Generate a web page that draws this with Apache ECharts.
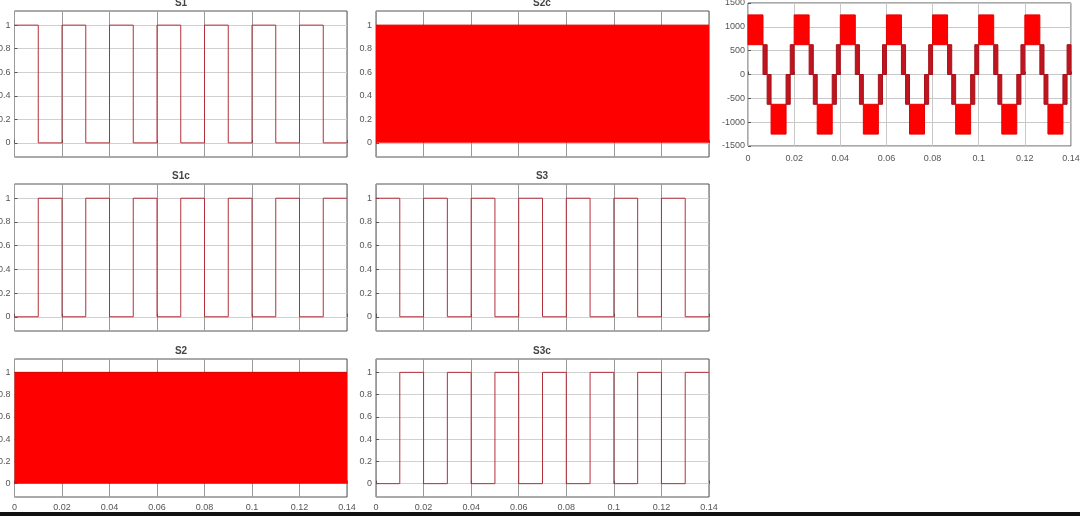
<!DOCTYPE html>
<html><head><meta charset="utf-8">
<script src="https://cdn.jsdelivr.net/npm/echarts@6/dist/echarts.min.js"></script>
<style>html,body{margin:0;padding:0;background:#fff;} #c{width:1080px;height:516px;}</style>
</head><body><div id="c"></div><script>
// ---- data ----
const timeTicks = [0, 0.02, 0.04, 0.06, 0.08, 0.1, 0.12, 0.14];
const gateTickValues = [0, 0.2, 0.4, 0.6, 0.8, 1];
const voltTicks = [-1500, -1000, -500, 0, 500, 1000, 1500];

const gateTimes = [0, 0.01, 0.02, 0.03, 0.04, 0.05, 0.06, 0.07, 0.08, 0.09, 0.1, 0.11, 0.12, 0.13, 0.14];
const s1Values  = [1, 0, 1, 0, 1, 0, 1, 0, 1, 0, 1, 0, 1, 0, 0];
const s1cValues = [0, 1, 0, 1, 0, 1, 0, 1, 0, 1, 0, 1, 0, 1, 1];
const s3Values  = [1, 0, 1, 0, 1, 0, 1, 0, 1, 0, 1, 0, 1, 0, 0];
const s3cValues = [0, 1, 0, 1, 0, 1, 0, 1, 0, 1, 0, 1, 0, 1, 1];

// S2 / S2c: high-frequency switching, seen as a solid band between 0 and 1
const pwmTimes  = [0, 0.14];
const s2Values  = [1, 1];
const s2cValues = [1, 1];

// output voltage: band edges (s) and the low/high level of each band
const voltEdges = [
  0.0000, 0.0065, 0.0083, 0.0100, 0.0165, 0.0183,
  0.0200, 0.0265, 0.0283, 0.0300, 0.0365, 0.0383,
  0.0400, 0.0465, 0.0483, 0.0500, 0.0565, 0.0583,
  0.0600, 0.0665, 0.0683, 0.0700, 0.0765, 0.0783,
  0.0800, 0.0865, 0.0883, 0.0900, 0.0965, 0.0983,
  0.1000, 0.1065, 0.1083, 0.1100, 0.1165, 0.1183,
  0.1200, 0.1265, 0.1283, 0.1300, 0.1365, 0.1383,
  0.1400];
const voltLow = [
  625, 0, -625, -1250, -625, 0,
  625, 0, -625, -1250, -625, 0,
  625, 0, -625, -1250, -625, 0,
  625, 0, -625, -1250, -625, 0,
  625, 0, -625, -1250, -625, 0,
  625, 0, -625, -1250, -625, 0,
  625, 0, -625, -1250, -625, 0];
const voltHigh = [
  1250, 625, 0, -625, 0, 625,
  1250, 625, 0, -625, 0, 625,
  1250, 625, 0, -625, 0, 625,
  1250, 625, 0, -625, 0, 625,
  1250, 625, 0, -625, 0, 625,
  1250, 625, 0, -625, 0, 625,
  1250, 625, 0, -625, 0, 625];

const panelTitles = ['S1', 'S2c', 'S1c', 'S3', 'S2', 'S3c'];

// ---- layout ----
const FONT = 'Liberation Sans, Arial, sans-serif';
const colL = {left: 14.5, width: 332.5};
const colR = {left: 376, width: 333};
const row1 = {top: 11, height: 146};
const row2 = {top: 184, height: 147};
const row3 = {top: 359, height: 138};

const grids = [
  Object.assign({}, colL, row1),   // 0 S1
  Object.assign({}, colR, row1),   // 1 S2c
  {left: 748, top: 3, width: 323, height: 143}, // 2 voltage
  Object.assign({}, colL, row2),   // 3 S1c
  Object.assign({}, colR, row2),   // 4 S3
  Object.assign({}, colL, row3),   // 5 S2
  Object.assign({}, colR, row3)    // 6 S3c
].map(g => Object.assign({
  show: true, borderColor: '#555', borderWidth: 1, backgroundColor: '#fff',
  containLabel: false, outerBoundsMode: 'none'
}, g));

const labelStyle = {color: '#555', fontSize: 9, fontFamily: FONT};

function xAxis(gi, showLabels, margin, vColor) {
  return {
    type: 'value', gridIndex: gi, min: 0, max: 0.14, interval: 0.02,
    axisLine: {show: false},
    axisTick: {show: true, inside: true, length: 3, lineStyle: {color: '#555'}},
    axisLabel: Object.assign({show: showLabels, margin: margin,
      formatter: v => String(+v.toFixed(2))}, labelStyle),
    splitLine: {show: true, lineStyle: {color: vColor, width: 1}}
  };
}
function yGate(gi) {
  return {
    type: 'value', gridIndex: gi, min: -0.12, max: 1.12,
    axisLine: {show: false},
    axisTick: {show: true, inside: true, length: 3, customValues: gateTickValues, lineStyle: {color: '#555'}},
    axisLabel: Object.assign({margin: 4, customValues: gateTickValues,
      formatter: v => String(+(+v).toFixed(1))}, labelStyle),
    splitLine: {show: true, lineStyle: {color: '#d0d0d0', width: 1}}
  };
}

const xAxes = [
  xAxis(0, false, 6, '#9a9a9a'),
  xAxis(1, false, 6, '#9a9a9a'),
  xAxis(2, true, 8, '#c8c8c8'),
  xAxis(3, false, 6, '#9a9a9a'),
  xAxis(4, false, 6, '#9a9a9a'),
  xAxis(5, true, 6, '#9a9a9a'),
  xAxis(6, true, 6, '#9a9a9a')
];
const yAxes = [
  yGate(0), yGate(1),
  {
    type: 'value', gridIndex: 2, min: -1500, max: 1500, interval: 500,
    axisLine: {show: false},
    axisTick: {show: true, inside: true, length: 3, lineStyle: {color: '#555'}},
    axisLabel: Object.assign({margin: 3, formatter: v => String(Math.round(v))}, labelStyle),
    splitLine: {show: true, lineStyle: {color: '#c8c8c8', width: 1}}
  },
  yGate(3), yGate(4), yGate(5), yGate(6)
];

const zip = (xs, ys) => xs.map((x, i) => [x, ys[i]]);

function gateSeries(idx, name, values) {
  return {
    type: 'line', name: name, xAxisIndex: idx, yAxisIndex: idx,
    data: zip(gateTimes, values), step: 'end', showSymbol: false, symbol: 'none',
    lineStyle: {color: '#b3303b', width: 1}, animation: false, silent: true
  };
}
function pwmSeries(idx, name, values) {
  return {
    type: 'line', name: name, xAxisIndex: idx, yAxisIndex: idx,
    data: zip(pwmTimes, values), showSymbol: false, symbol: 'none',
    lineStyle: {color: '#d40000', width: 1},
    areaStyle: {color: '#ff0000', opacity: 1, origin: 0},
    animation: false, silent: true
  };
}

const voltData = voltLow.map((lo, i) => [voltEdges[i], voltEdges[i + 1], lo, voltHigh[i]]);

const voltSeries = {
  type: 'custom', name: 'Vout', xAxisIndex: 2, yAxisIndex: 2,
  data: voltData, encode: {x: [0, 1], y: [2, 3]}, animation: false, silent: true,
  renderItem: function (params, api) {
    const t0 = api.value(0), t1 = api.value(1), lo = api.value(2), hi = api.value(3);
    const p0 = api.coord([t0, hi]);
    const p1 = api.coord([t1, lo]);
    const outer = (hi === 1250 || lo === -1250);
    return {
      type: 'rect',
      shape: {x: p0[0], y: p0[1], width: p1[0] - p0[0], height: p1[1] - p0[1]},
      style: {
        fill: outer ? '#ff0000' : '#c0141f',
        stroke: outer ? '#e60000' : '#a8101a',
        lineWidth: 1
      }
    };
  }
};

const titlePos = [
  {x: 181, y: -2}, {x: 542, y: -2},
  {x: 181, y: 171}, {x: 542, y: 171},
  {x: 181, y: 346}, {x: 542, y: 346}
];
const titles = panelTitles.map((t, i) => ({
  text: t, left: titlePos[i].x, top: titlePos[i].y, textAlign: 'center', padding: 0,
  textStyle: {fontSize: 10, fontWeight: 'bold', color: '#444', fontFamily: FONT}
}));

const chart = echarts.init(document.getElementById('c'), null, {renderer: 'canvas'});
chart.setOption({
  backgroundColor: '#fff',
  animation: false,
  title: titles,
  grid: grids,
  xAxis: xAxes,
  yAxis: yAxes,
  series: [
    gateSeries(0, 'S1', s1Values),
    pwmSeries(1, 'S2c', s2cValues),
    voltSeries,
    gateSeries(3, 'S1c', s1cValues),
    gateSeries(4, 'S3', s3Values),
    pwmSeries(5, 'S2', s2Values),
    gateSeries(6, 'S3c', s3cValues)
  ],
  graphic: [
    {type: 'rect', left: 0, top: 512, shape: {width: 1080, height: 4}, style: {fill: '#111'}, silent: true}
  ]
});
</script></body></html>
